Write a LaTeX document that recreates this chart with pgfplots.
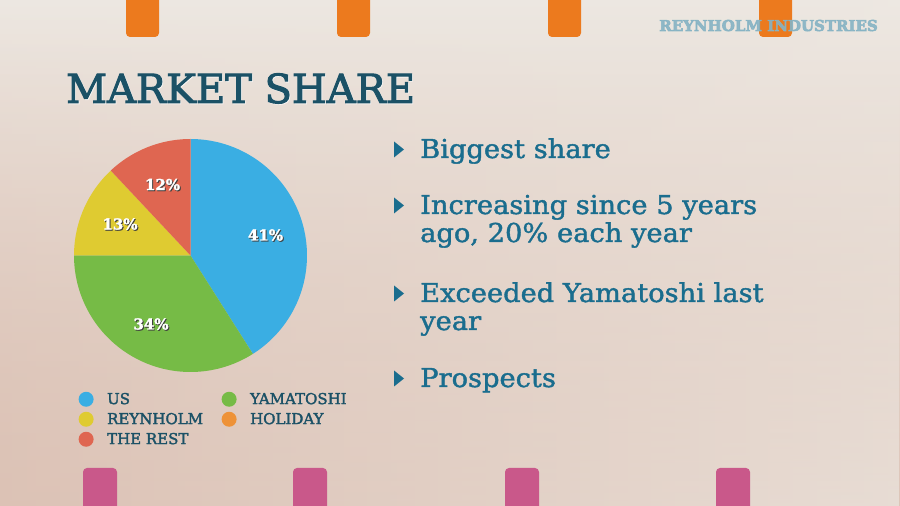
\documentclass[border=0pt]{standalone}
\usepackage{pgfplots}
\pgfplotsset{compat=1.18}
\usetikzlibrary{fadings}
\usepackage{fontspec}
\setmainfont{DejaVu Serif}
\newfontfamily\twfont{DejaVu Serif}[FakeBold=1.5, FakeStretch=1.05]
\newfontfamily\titlefont{DejaVu Serif}[FakeBold=2.5]
\newfontfamily\legfont{DejaVu Serif}[FakeBold=2]
\newfontfamily\brandfont{DejaVu Serif Bold}[FakeBold=4]
\newfontfamily\labfont{DejaVu Serif Bold}[FakeBold=2]
\definecolor{bgtop}{HTML}{EDE8E2}
\definecolor{bgbot}{HTML}{DCC2B5}
\definecolor{titlecol}{HTML}{1B5166}
\definecolor{brand}{HTML}{86B3C4}
\definecolor{bullet}{HTML}{1A6D8E}
\definecolor{legtext}{HTML}{1B5166}
\definecolor{cUS}{HTML}{3AAEE3}
\definecolor{cYAM}{HTML}{76BB46}
\definecolor{cREY}{HTML}{DFCB31}
\definecolor{cREST}{HTML}{DF6651}
\definecolor{cHOL}{HTML}{EE9238}
\definecolor{taborange}{HTML}{EC7A1E}
\definecolor{tabpink}{HTML}{C9588A}
% market shares (percent)
\def\shareUS{41}
\def\shareYAM{34}
\def\shareREY{13}
\def\shareHOL{0}
\def\shareREST{12}
\begin{document}
\begin{tikzpicture}[x=1pt,y=1pt]
\clip (0,0) rectangle (900,506);
\shade[top color=bgtop, bottom color=bgbot] (0,0) rectangle (900,506);
\shade[left color=bgbot, right color=bgtop, path fading=north, opacity=0.7] (0,0) rectangle (900,506);
% tabs
\foreach \xx in {126,337,548,759}{\fill[taborange, rounded corners=4pt] (\xx,520) rectangle (\xx+33,469);}
\foreach \xx in {83,293,505,716}{\fill[tabpink, rounded corners=4pt] (\xx,-14) rectangle (\xx+34,38);}
% brand
\node[anchor=base east, inner sep=0pt, text=brand, opacity=0.9, font=\fontsize{15}{15}\selectfont\brandfont] at (878,475) {REYNHOLM INDUSTRIES};
% title
\node[anchor=base west, inner sep=0pt, text=white, opacity=0.6, font=\fontsize{40}{40}\selectfont\titlefont] at (66.8,402.2) {MARKET SHARE};
\node[anchor=base west, inner sep=0pt, text=titlecol, font=\fontsize{40}{40}\selectfont\titlefont] at (66,403) {MARKET SHARE};
% bullets
\begin{scope}[every node/.style={anchor=base west, inner sep=0pt, text=bullet, font=\fontsize{26}{26}\selectfont\twfont}]
\node at (420,348) {Biggest share};
\node at (420,292) {Increasing since 5 years};
\node at (420,264) {ago, 20\% each year};
\node at (420,204) {Exceeded Yamatoshi last};
\node at (420,176) {year};
\node at (420,119) {Prospects};
\end{scope}
\foreach \yb in {348,292,204,119}{\fill[bullet] (394,\yb+16.5) -- (404,\yb+8.5) -- (394,\yb+0.5) -- cycle;}
% pie
\begin{axis}[at={(74pt,134pt)}, anchor=south west, scale only axis,
  width=233pt, height=233pt, xmin=-1, xmax=1, ymin=-1, ymax=1,
  hide axis, clip=false,
  legend columns=2, legend cell align=left,
  legend image code/.code={\fill[#1, draw=none] (7.5pt,0pt) circle (7.5pt);},
  legend style={at={(0.019,-0.084)}, anchor=north west, draw=none, fill=none,
    inner sep=0pt, row sep=5pt, font=\fontsize{15}{15}\selectfont\legfont, text=legtext,
    nodes={inner sep=0pt},
    /tikz/every odd column/.append style={column sep=13.5pt}},
]
\pgfmathsetmacro{\aA}{90}
\pgfmathsetmacro{\aB}{\aA-3.6*\shareUS}
\pgfmathsetmacro{\aC}{\aB-3.6*\shareYAM}
\pgfmathsetmacro{\aD}{\aC-3.6*\shareREY}
\pgfmathsetmacro{\aE}{\aD-3.6*\shareHOL}
\pgfmathsetmacro{\aF}{\aE-3.6*\shareREST}
\addplot[fill=cUS, draw=none, domain=\aB:\aA, samples=90, variable=\t] ({cos(t)},{sin(t)}) -- (axis cs:0,0) -- cycle;
\addlegendentry{\makebox[114.5pt][l]{US}}
\addplot[fill=cYAM, draw=none, domain=\aC:\aB, samples=80, variable=\t] ({cos(t)},{sin(t)}) -- (axis cs:0,0) -- cycle;
\addlegendentry{\makebox[114.5pt][l]{YAMATOSHI}}
\addplot[fill=cREY, draw=none, domain=\aD:\aC, samples=40, variable=\t] ({cos(t)},{sin(t)}) -- (axis cs:0,0) -- cycle;
\addlegendentry{\makebox[114.5pt][l]{REYNHOLM}}
\addlegendimage{fill=cHOL, draw=none}
\addlegendentry{\makebox[114.5pt][l]{HOLIDAY}}
\addplot[fill=cREST, draw=none, domain=\aF:\aE, samples=40, variable=\t] ({cos(t)},{sin(t)}) -- (axis cs:0,0) -- cycle;
\addlegendentry{\makebox[114.5pt][l]{THE REST}}
\begin{scope}[every node/.style={font=\fontsize{15}{15}\selectfont\labfont, inner sep=0pt}]
\node[text=black!75, xshift=1pt, yshift=-1pt] at (axis cs:0.644,0.176) {41\%};
\node[text=white] at (axis cs:0.644,0.176) {41\%};
\node[text=black!75, xshift=1pt, yshift=-1pt] at (axis cs:-0.339,-0.588) {34\%};
\node[text=white] at (axis cs:-0.339,-0.588) {34\%};
\node[text=black!75, xshift=1pt, yshift=-1pt] at (axis cs:-0.605,0.270) {13\%};
\node[text=white] at (axis cs:-0.605,0.270) {13\%};
\node[text=black!75, xshift=1pt, yshift=-1pt] at (axis cs:-0.240,0.609) {12\%};
\node[text=white] at (axis cs:-0.240,0.609) {12\%};
\end{scope}
\end{axis}
\end{tikzpicture}
\end{document}
